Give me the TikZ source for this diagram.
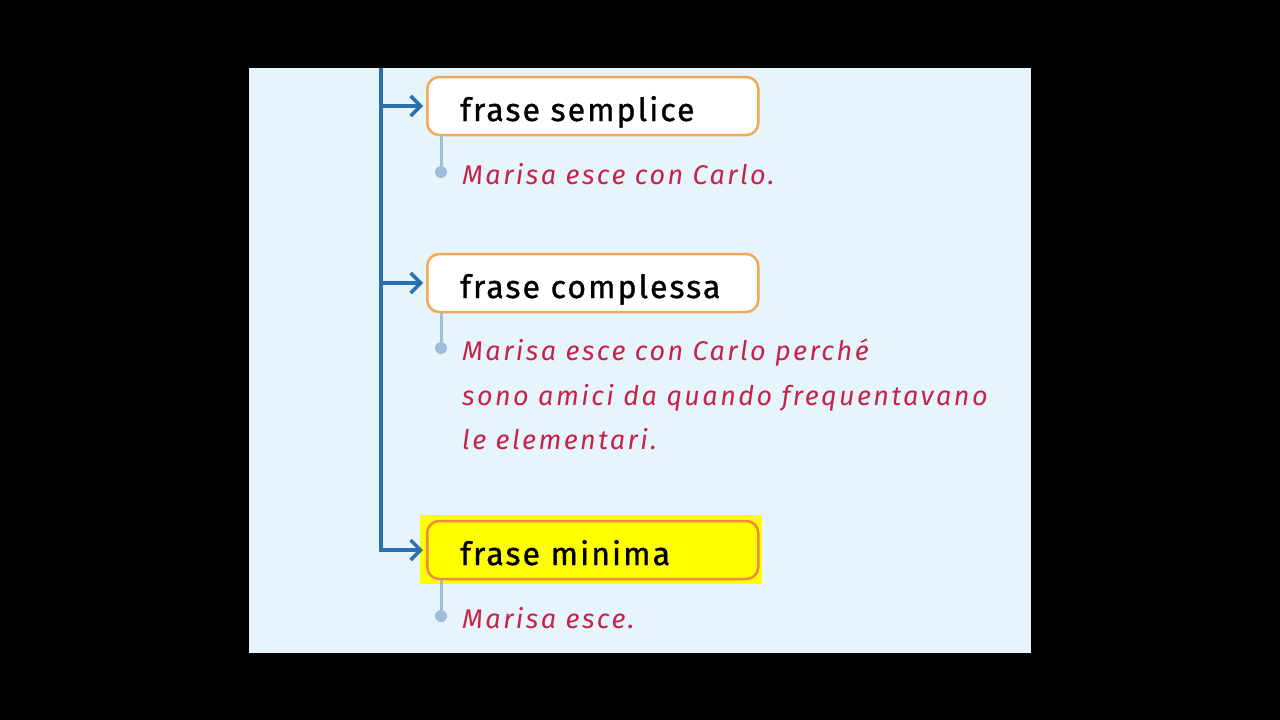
\documentclass[tikz,border=0pt]{standalone}
\usepackage{fontspec}
\usetikzlibrary{arrows.meta}
\newfontfamily\etichettafont[LetterSpace=6.5,FakeBold=1]{Fira Sans}
\newfontfamily\esempiofont[LetterSpace=9]{Fira Sans}
\definecolor{pannello}{HTML}{E6F4FB}
\definecolor{bluscuro}{HTML}{2A6FAE}
\definecolor{arancio}{HTML}{F0AA55}
\definecolor{giallo}{HTML}{FFFF00}
\definecolor{rosso}{HTML}{C8224A}
\definecolor{celeste}{HTML}{9FBCDA}
\tikzset{
  casella/.style={draw=arancio,line width=2.5pt,rounded corners=12pt,fill=white,
    anchor=west,minimum width=331pt,minimum height=58pt,inner xsep=33pt,
    text width=265pt,align=left,text height=30pt,text depth=0pt,
    font=\etichettafont\fontsize{32}{36}\selectfont},
  esempio/.style={anchor=base west,inner sep=0pt,align=left,text=rosso,
    font=\esempiofont\itshape\fontsize{27}{44.5}\selectfont},
  punto/.style={circle,fill=celeste,inner sep=0pt,minimum size=12pt},
  gambo/.style={draw=celeste,line width=3pt},
  ramo/.style={draw=bluscuro,line width=3.5pt,shorten >=3pt,
    -{Straight Barb[length=10pt,width=20pt,line width=3.5pt]}}
}
\begin{document}
\begin{tikzpicture}[x=1pt,y=-1pt]
  \fill[black] (0,0) rectangle (1280,720);
  \useasboundingbox (0,0) rectangle (1280,720);
  \fill[pannello] (249,68) rectangle (1031,653);
  % caselle
  \node[casella] (semplice) at (426,106) {frase semplice};
  \node[casella] (complessa) at (426,283) {frase complessa};
  \fill[giallo] (420,515) rectangle (762,584);
  \node[casella,fill=giallo,draw=arancio!80!red] (minima) at (426,550) {frase minima};
  % linea principale
  \coordinate (inizio) at (381,68);
  \draw[ramo] (inizio) |- (minima.west);
  \draw[ramo] (inizio |- semplice.west) -- (semplice.west);
  \draw[ramo] (inizio |- complessa.west) -- (complessa.west);
  % esempi
  \node[punto] (p1) at (441,172) {};
  \node[punto] (p2) at (441,348) {};
  \node[punto] (p3) at (441,616) {};
  \draw[gambo] (p1) -- (p1 |- semplice.south);
  \draw[gambo] (p2) -- (p2 |- complessa.south);
  \draw[gambo] (p3) -- (p3 |- minima.south);
  \node[esempio] (es1) at (462,184) {Marisa esce con Carlo.};
  \node[esempio,anchor=north west] (es2) at (462,339) {Marisa esce con Carlo perché\\sono amici da quando frequentavano\\le elementari.};
  \node[esempio] (es3) at (462,628) {Marisa esce.};
\end{tikzpicture}
\end{document}
